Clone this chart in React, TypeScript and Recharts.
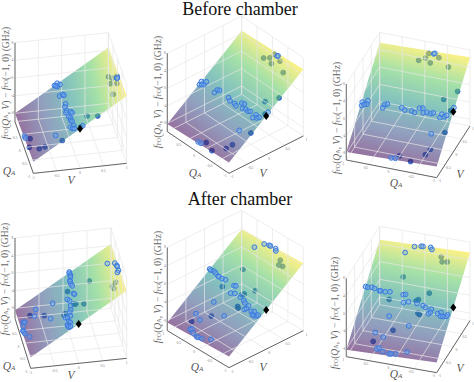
import React from 'react';
import { ComposedChart, Area, Scatter, XAxis, YAxis, ReferenceLine, ReferenceDot } from 'recharts';

const WIDTH = 474;
const HEIGHT = 382;
const SERIF = '"Liberation Serif", serif';

const axisTicks = [-1, -0.5, 0, 0.5, 1];
const zTicks = [-8, -4, 0, 4, 8];

// fit surface at its corners, order (Q,V): (1,-1) (-1,-1) (-1,1) (1,1)
const cornerQ = [1, -1, -1, 1];
const cornerV = [-1, -1, 1, 1];
const beforeCornerF = [-8.09, -7.37, 5.23, 4.51];
const afterCornerF = [-8.33, -7.69, 4.39, 3.75];

// the black marker, f at (Q=-1, V=0)
const beforeMarkerF = -1.07;
const afterMarkerF = -1.65;

const beforeQ = [0.07, -0.06, -0.1, -0.22, -0.24, -0.34, -0.19, -0.6, -0.95, -0.71, 0.98, 0.97, 0.87, 0.87, 0.92, 0.51, 0.49, 0.44, 0.11, 0.03, -0.12, -0.19, -0.27, -0.34, -0.38, -0.45, -0.54, -0.59, -0.76, -0.78, -0.85, -0.89, -0.93, -0.99, -0.68, -0.95, -0.75, -0.68, -0.41, -0.14, 0.01, -0.08];
const beforeV = [0.82, 0.88, 0.97, 0.94, 0.95, 0.92, 0.81, 0.79, 0.39, 0.21, -0.1, -0.16, -0.12, -0.06, -0.14, -0.14, -0.08, -0.06, -0.09, -0.12, -0.12, -0.14, -0.05, -0.04, -0.12, -0.1, -0.11, -0.09, -0.16, -0.09, -0.13, -0.1, 0.03, 0.06, -0.46, -0.37, -0.7, -0.81, -0.97, -0.9, -0.99, -0.99];
const beforeF = [3.5, 3.9, 4.5, 4.8, 4.9, 4.3, 3.5, 3.5, 1.1, -0.1, -2.2, -2.6, -2.3, -1.9, -2.4, -2.3, -1.9, -1.8, -1.8, -2.0, -1.9, -2.0, -1.4, -1.3, -1.8, -1.7, -1.7, -1.6, -1.9, -1.5, -1.7, -1.5, -1.1, -0.5, -3.9, -3.6, -5.8, -6.5, -7.6, -7.3, -7.5, -7.4];

const afterQ = [0.37, 0.21, 0.07, 0.03, -0.14, -0.18, -0.41, -0.46, -0.57, 0.27, -0.39, 0.99, 0.94, 0.85, 0.79, 0.67, 0.64, 0.54, 0.44, 0.42, 0.14, 0.09, -0.16, -0.2, 0.08, -0.02, -0.21, -0.35, -0.42, -0.28, -0.32, -0.52, -0.55, -0.55, -0.71, -0.78, -0.79, -0.84, -0.91, -0.93, 0.3, 0.49, 0.29, 0.14, -0.18, 0.49, 0.35, 0.31, 0.21, 0.06, 0.02, -0.08, -0.31];
const afterV = [0.82, 0.95, 0.97, 0.97, 0.97, 0.94, 0.87, 0.79, 0.8, 0.43, 0.21, 0.13, 0.12, 0.13, 0.12, 0.09, 0.09, 0.09, 0.1, 0.0, 0.08, 0.09, 0.04, 0.07, -0.06, -0.03, -0.04, -0.06, -0.09, -0.17, -0.19, -0.19, -0.1, -0.16, -0.16, -0.14, -0.2, -0.2, -0.19, -0.16, -0.33, -0.65, -0.71, -0.53, -0.45, -0.77, -0.93, -0.91, -0.96, -0.99, -0.98, -0.97, -0.91];
const afterF = [3.1, 3.9, 4.1, 4.1, 4.2, 4.0, 3.2, 2.7, 2.8, 0.3, -0.8, -1.3, -1.3, -1.2, -1.3, -1.4, -1.4, -1.4, -1.3, -2.3, -1.3, -1.2, -1.9, -1.7, -2.1, -1.9, -1.9, -2.0, -2.1, -3.1, -3.2, -2.7, -2.2, -2.5, -2.5, -2.3, -2.7, -2.7, -2.6, -2.4, -3.8, -5.8, -6.1, -5.4, -4.4, -7.0, -7.5, -7.3, -7.6, -7.7, -7.7, -7.6, -7.1];

type Cam = {
  id: string;
  ox: number; fy: number; oy: number;
  qx: number; qy: number; vx: number; vy: number;
  zs: number; wz: number; gap: number;
  qLab: number[]; vLab: number[];
  zTitle: number[]; qTitle: number[]; vTitle: number[];
  after: boolean;
};

// orthographic view of each panel, in page pixels
const cams: Cam[] = [
  { id: 'p1', ox: 70.83, fy: 142.5, oy: 98.3, qx: -9.17, qy: -25.83, vx: 46.67, vy: -5, zs: 4.43, wz: 4.42, gap: 8.3, qLab: [-4.5, 3.5], vLab: [0, 5], zTitle: [4.5, 83], qTitle: [9, 171], vTitle: [71, 180], after: false },
  { id: 'p2', ox: 235.33, fy: 133.83, oy: 90.33, qx: -30.83, qy: -20.83, vx: 37.17, vy: -18.67, zs: 4.44, wz: 4.375, gap: 8.3, qLab: [-4, 3], vLab: [3, 4], zTitle: [157, 92], qTitle: [195, 173], vTitle: [263, 173], after: false },
  { id: 'p3', ox: 408.17, fy: 143, oy: 98.13, qx: -45.17, qy: -8.83, vx: 16.67, vy: -25.83, zs: 4.57, wz: 4.33, gap: 6.67, qLab: [-3, 3.5], vLab: [3, 3], zTitle: [336, 118], qTitle: [396, 183], vTitle: [460, 174], after: false },
  { id: 'p4', ox: 70.83, fy: 338.33, oy: 291.33, qx: -7.83, qy: -25, vx: 48, vy: -5, zs: 4.67, wz: 4.4, gap: 10, qLab: [-4.5, 3.5], vLab: [0, 5], zTitle: [4, 279], qTitle: [9, 366], vTitle: [71, 375], after: true },
  { id: 'p5', ox: 235.33, fy: 330.67, oy: 283.67, qx: -30.83, qy: -18.5, vx: 37.17, vy: -18.5, zs: 4.67, wz: 4.58, gap: 10, qLab: [-4, 3], vLab: [3, 4], zTitle: [157, 287], qTitle: [197, 367], vTitle: [263, 367], after: true },
  { id: 'p6', ox: 408.17, fy: 338.67, oy: 291.67, qx: -45.17, qy: -8, vx: 16.67, vy: -26, zs: 4.8, wz: 4.42, gap: 7.67, qLab: [-3, 3.5], vLab: [3, 3], zTitle: [334, 313], qTitle: [396, 374], vTitle: [460, 368], after: true },
];

const onPlane = (c: Cam, q: number, v: number, f: number) => ({
  x: c.ox + q * c.qx + v * c.vx,
  y: c.oy + q * c.qy + v * c.vy - f * c.zs,
});
const onBox = (c: Cam, q: number, v: number, z: number) => ({
  x: c.ox + q * c.qx + v * c.vx,
  y: c.fy + q * c.qy + v * c.vy - (c.gap + (z + 8) * c.wz),
});
const onFloor = (c: Cam, q: number, v: number) => ({
  x: c.ox + q * c.qx + v * c.vx,
  y: c.fy + q * c.qy + v * c.vy,
});

const planeF = (corners: number[], q: number, v: number) => {
  const a = corners.reduce((s, f) => s + f, 0) / 4;
  const b = (corners[0] + corners[3] - corners[1] - corners[2]) / 4;
  const d = (corners[2] + corners[3] - corners[0] - corners[1]) / 4;
  return a + b * q + d * v;
};

// upper and lower edge of the projected surface, as a ranged Area
const surfaceBand = (c: Cam, corners: number[]) => {
  const pts = cornerQ.map((q, i) => onPlane(c, q, cornerV[i], corners[i]));
  const xs = pts.map((p) => p.x).sort((a, b) => a - b);
  return xs.map((x) => {
    const ys: number[] = [];
    pts.forEach((p, i) => {
      const n = pts[(i + 1) % 4];
      if ((x >= p.x && x <= n.x) || (x >= n.x && x <= p.x)) {
        ys.push(n.x === p.x ? p.y : p.y + ((x - p.x) / (n.x - p.x)) * (n.y - p.y));
      }
    });
    return { x, band: [Math.min(...ys), Math.max(...ys)] };
  });
};

// f is linear on the projected plane, so a straight gradient gives the colormap
const gradientEnds = (c: Cam, corners: number[]) => {
  const p = cornerQ.map((q, i) => onPlane(c, q, cornerV[i], corners[i]));
  const [a, b, d] = [p[1], p[0], p[2]];
  const [fa, fb, fd] = [corners[1], corners[0], corners[2]];
  const det = (b.x - a.x) * (d.y - a.y) - (d.x - a.x) * (b.y - a.y);
  const gx = ((fb - fa) * (d.y - a.y) - (fd - fa) * (b.y - a.y)) / det;
  const gy = ((fd - fa) * (b.x - a.x) - (fb - fa) * (d.x - a.x)) / det;
  const lo = Math.min(...corners);
  const hi = Math.max(...corners);
  const i0 = corners.indexOf(lo);
  const len = (hi - lo) / (gx * gx + gy * gy);
  return { x1: p[i0].x, y1: p[i0].y, x2: p[i0].x + gx * len, y2: p[i0].y + gy * len };
};

const viridis = ['#440154', '#3b528b', '#21918c', '#5ec962', '#fde725'];

const Dot = (under: boolean) => (p: any) => (
  <circle
    cx={p.cx}
    cy={p.cy}
    r={2.4}
    fill={under ? '#2b5fc0' : '#6aa0ee'}
    fillOpacity={under ? 0.85 : 0.4}
    stroke={under ? '#2f66cc' : '#3b7be0'}
    strokeWidth={1}
  />
);

const Diamond = (p: any) => (
  <path d={`M${p.cx} ${p.cy - 4}L${p.cx + 3} ${p.cy}L${p.cx} ${p.cy + 4}L${p.cx - 3} ${p.cy}Z`} fill="#000" />
);

const tickText = (label: string) => (p: any) => (
  <text x={p.cx} y={p.cy} textAnchor="middle" dominantBaseline="central" fontSize={3.6} fontFamily={SERIF} fill="#777">
    {label}
  </text>
);

const ZTitle = (p: any) => (
  <text
    x={p.cx}
    y={p.cy}
    transform={`rotate(-90 ${p.cx} ${p.cy})`}
    textAnchor="middle"
    dominantBaseline="central"
    fontSize={9.6}
    fontFamily={SERIF}
    fill="#666"
  >
    <tspan fontStyle="italic">f</tspan>
    <tspan fontSize={6} dy={1.5}>FO</tspan>
    <tspan dy={-1.5}>(</tspan>
    <tspan fontStyle="italic">Q</tspan>
    <tspan fontSize={6} dy={1.5}>A</tspan>
    <tspan dy={-1.5}>, </tspan>
    <tspan fontStyle="italic">V</tspan>
    <tspan>) − </tspan>
    <tspan fontStyle="italic">f</tspan>
    <tspan fontSize={6} dy={1.5}>FO</tspan>
    <tspan dy={-1.5}>(−1, 0) (GHz)</tspan>
  </text>
);

const QTitle = (p: any) => (
  <text x={p.cx} y={p.cy} textAnchor="middle" dominantBaseline="central" fontSize={11.5} fontFamily={SERIF} fontStyle="italic" fill="#555">
    Q<tspan fontSize={7} dy={2}>A</tspan>
  </text>
);

const VTitle = (p: any) => (
  <text x={p.cx} y={p.cy} textAnchor="middle" dominantBaseline="central" fontSize={11.5} fontFamily={SERIF} fontStyle="italic" fill="#555">
    V
  </text>
);

const Title = (label: string) => (p: any) => (
  <text x={p.cx} y={p.cy} textAnchor="middle" dominantBaseline="central" fontSize={18} fontFamily={SERIF} fill="#111">
    {label}
  </text>
);

const seg = (a: { x: number; y: number }, b: { x: number; y: number }, key: string, stroke = '#e6e6e6', w = 0.7) => (
  <ReferenceLine
    key={key}
    segment={[{ x: a.x, y: a.y }, { x: b.x, y: b.y }]}
    stroke={stroke}
    strokeWidth={w}
    ifOverflow="visible"
  />
);

const gridLines = (c: Cam) => {
  const out: React.ReactNode[] = [];
  axisTicks.forEach((t) => {
    out.push(seg(onFloor(c, t, -1), onFloor(c, t, 1), `${c.id}fq${t}`));
    out.push(seg(onFloor(c, -1, t), onFloor(c, 1, t), `${c.id}fv${t}`));
    out.push(seg(onBox(c, 1, t, -8 - c.gap / c.wz), onBox(c, 1, t, 8), `${c.id}wv${t}`));
    out.push(seg(onBox(c, t, 1, -8 - c.gap / c.wz), onBox(c, t, 1, 8), `${c.id}wq${t}`));
  });
  zTicks.forEach((z) => {
    out.push(seg(onBox(c, 1, -1, z), onBox(c, 1, 1, z), `${c.id}zl${z}`));
    out.push(seg(onBox(c, 1, 1, z), onBox(c, -1, 1, z), `${c.id}zr${z}`));
  });
  return out;
};

const frontAxes = (c: Cam) => [
  seg(onFloor(c, 1, -1), onFloor(c, -1, -1), `${c.id}ax1`, '#666', 1),
  seg(onFloor(c, -1, -1), onFloor(c, -1, 1), `${c.id}ax2`, '#666', 1),
  seg(onBox(c, 1, -1, -8 - c.gap / c.wz), onBox(c, 1, -1, 8), `${c.id}ax3`, '#808080', 1.2),
];

const textMarks = (c: Cam) => {
  const out: React.ReactNode[] = [];
  const dot = (x: number, y: number, shape: any, key: string) => (
    <ReferenceDot key={key} x={x} y={y} r={0} ifOverflow="visible" shape={shape} />
  );
  axisTicks.forEach((t) => {
    const q = onFloor(c, t, -1);
    const v = onFloor(c, -1, t);
    out.push(dot(q.x + c.qLab[0], q.y + c.qLab[1], tickText(String(t)), `${c.id}tq${t}`));
    out.push(dot(v.x + c.vLab[0], v.y + c.vLab[1], tickText(String(t)), `${c.id}tv${t}`));
  });
  zTicks.forEach((z) => {
    const p = onBox(c, 1, -1, z);
    out.push(dot(p.x - 2.5, p.y, tickText(String(z)), `${c.id}tz${z}`));
  });
  out.push(dot(c.zTitle[0], c.zTitle[1], ZTitle, `${c.id}zt`));
  out.push(dot(c.qTitle[0], c.qTitle[1], QTitle, `${c.id}qt`));
  out.push(dot(c.vTitle[0], c.vTitle[1], VTitle, `${c.id}vt`));
  return out;
};

const pointsFor = (c: Cam) => {
  const qs = c.after ? afterQ : beforeQ;
  const vs = c.after ? afterV : beforeV;
  const fs = c.after ? afterF : beforeF;
  const corners = c.after ? afterCornerF : beforeCornerF;
  const all = qs.map((q, i) => ({ ...onPlane(c, q, vs[i], fs[i]), under: fs[i] < planeF(corners, q, vs[i]) }));
  return { under: all.filter((p) => p.under), over: all.filter((p) => !p.under) };
};

export default function App() {
  return (
    <div style={{ position: 'absolute', left: 0, top: 0, width: WIDTH, height: HEIGHT, background: '#fff' }}>
      <ComposedChart width={WIDTH} height={HEIGHT} margin={{ top: 0, right: 0, bottom: 0, left: 0 }}>
        <defs>
          {cams.map((c) => {
            const g = gradientEnds(c, c.after ? afterCornerF : beforeCornerF);
            return (
              <linearGradient key={c.id} id={`grad-${c.id}`} gradientUnits="userSpaceOnUse" {...g}>
                {viridis.map((col, i) => (
                  <stop key={col} offset={i / (viridis.length - 1)} stopColor={col} stopOpacity={0.56} />
                ))}
              </linearGradient>
            );
          })}
        </defs>
        <XAxis type="number" dataKey="x" domain={[0, WIDTH]} hide allowDataOverflow />
        <YAxis type="number" dataKey="y" domain={[0, HEIGHT]} reversed hide allowDataOverflow />
        {cams.map((c) => gridLines(c))}
        {cams.map((c) => (
          <Scatter key={`${c.id}-under`} data={pointsFor(c).under} shape={Dot(true)} isAnimationActive={false} zIndex={90} />
        ))}
        {cams.map((c) => (
          <Area
            key={`${c.id}-surface`}
            data={surfaceBand(c, c.after ? afterCornerF : beforeCornerF)}
            dataKey="band"
            type="linear"
            stroke="none"
            fill={`url(#grad-${c.id})`}
            fillOpacity={1}
            dot={false}
            activeDot={false}
            isAnimationActive={false}
          />
        ))}
        {cams.map((c) => frontAxes(c))}
        {cams.map((c) => (
          <Scatter key={`${c.id}-over`} data={pointsFor(c).over} shape={Dot(false)} isAnimationActive={false} />
        ))}
        {cams.map((c) => {
          const f = c.after ? afterMarkerF : beforeMarkerF;
          return <Scatter key={`${c.id}-marker`} data={[onPlane(c, -1, 0, f)]} shape={Diamond} isAnimationActive={false} />;
        })}
        {cams.map((c) => textMarks(c))}
        <ReferenceDot x={240} y={8.5} r={0} ifOverflow="visible" shape={Title('Before chamber')} />
        <ReferenceDot x={240} y={199} r={0} ifOverflow="visible" shape={Title('After chamber')} />
      </ComposedChart>
    </div>
  );
}
